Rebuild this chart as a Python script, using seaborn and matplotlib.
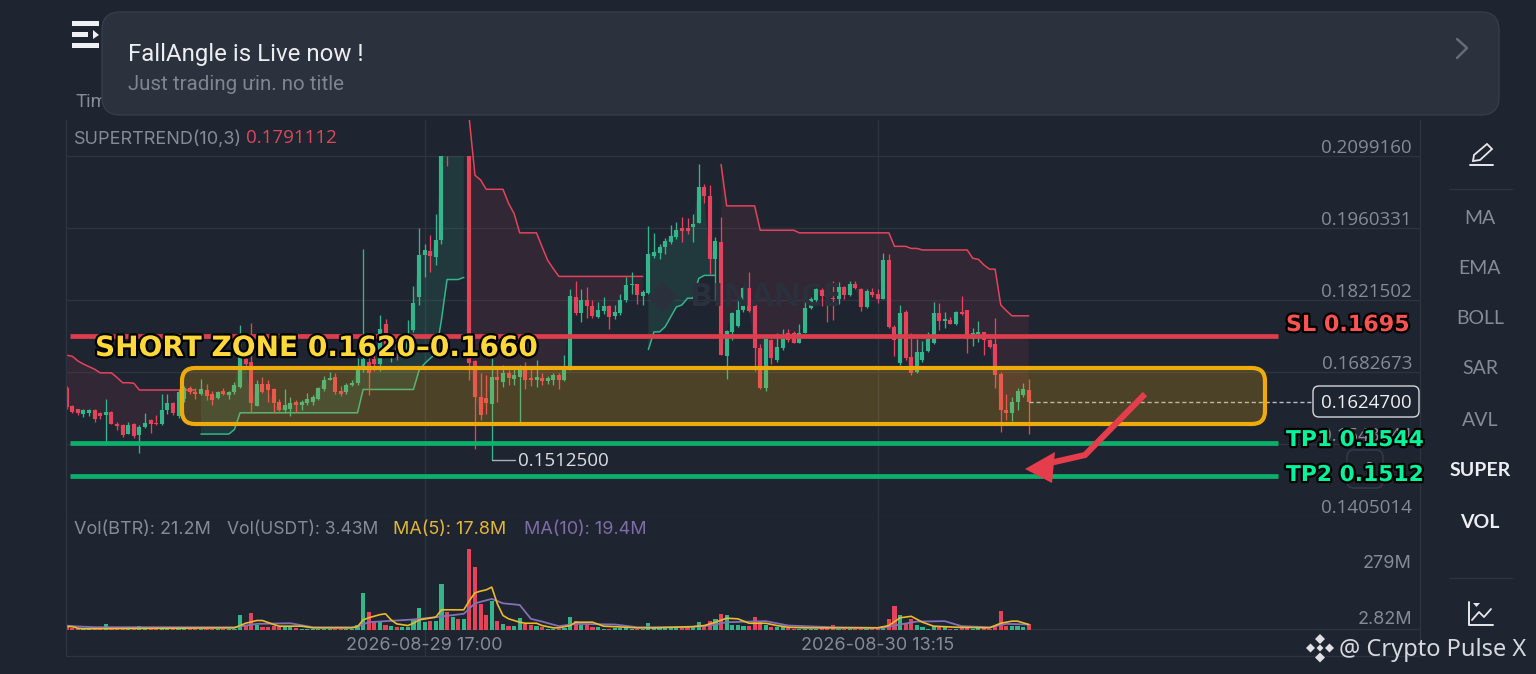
import numpy as np
import pandas as pd
import matplotlib
matplotlib.use("Agg")
import matplotlib.pyplot as plt
import matplotlib.patheffects as pe
from matplotlib.patches import FancyBboxPatch, Polygon, Rectangle
import seaborn as sns

_ = np.nan

# 15 minute candles, prices in units of 0.0001
opens = [1651,1617,1612,1601,1604,1609,1603,1599,1606,1583,1580,1564,1582,1561,1576,1591,1584,1582,1610,1622,
         1598,1630,1651,1644,1640,1648,1640,1633,1646,1638,1644,1654,1708,1702,1618,1660,1660,1649,1625,1609,
         1612,1625,1620,1622,1625,1631,1649,1668,1673,1646,1644,1657,1661,1686,1702,1708,1699,1775,1709,1745,
         1716,1725,1764,1828,1908,1916,1905,1937,2110,2140,2170,2140,2190,1704,1635,1632,1621,1674,1664,1680,
         1670,1674,1686,1671,1668,1672,1665,1667,1676,1668,1689,1828,1797,1821,1810,1789,1801,1810,1790,1797,
         1821,1850,1852,1829,1835,1906,1913,1924,1934,1943,1960,1961,1963,1970,2040,2022,1900,1934,1713,1760,
         1771,1802,1844,1811,1728,1651,1745,1705,1728,1758,1757,1739,1757,1807,1821,1840,1831,1826,1824,1847,
         1831,1853,1842,1808,1837,1834,1824,1898,1770,1700,1799,1711,1683,1705,1723,1739,1797,1781,1783,1776,
         1799,1802,1747,1756,1760,1745,1736,1678,1610,1604,1625,1638,1648]
closes = [1616,1606,1603,1609,1609,1593,1598,1606,1583,1578,1561,1580,1559,1576,1585,1583,1582,1610,1622,1603,
          1645,1651,1644,1640,1649,1636,1628,1644,1641,1644,1657,1712,1698,1622,1660,1644,1648,1622,1610,1619,
          1623,1620,1625,1630,1634,1651,1668,1672,1644,1641,1657,1662,1690,1708,1680,1698,1766,1730,1718,1725,
          1724,1748,1815,1908,1917,1906,1938,2110,2100,2180,2150,2200,1700,1635,1600,1622,1673,1667,1681,1672,
          1677,1686,1667,1668,1673,1665,1672,1676,1668,1689,1829,1796,1821,1810,1790,1802,1810,1789,1799,1821,
          1850,1853,1831,1837,1911,1914,1924,1935,1944,1956,1955,1955,1969,2040,2022,1900,1936,1715,1762,1797,
          1802,1844,1801,1728,1651,1747,1709,1731,1747,1744,1739,1757,1807,1824,1842,1829,1828,1824,1847,1831,
          1853,1844,1808,1839,1831,1824,1898,1769,1745,1797,1709,1681,1722,1722,1747,1797,1781,1784,1776,1799,
          1794,1747,1757,1760,1745,1731,1676,1610,1603,1625,1647,1649,1624.7]
highs = [1655,1619,1612,1611,1611,1611,1606,1630,1608,1586,1583,1586,1585,1580,1603,1593,1599,1640,1640,1625,
         1650,1655,1655,1651,1670,1660,1646,1646,1651,1646,1664,1773,1720,1777,1667,1673,1668,1651,1631,1649,
         1635,1628,1628,1642,1638,1654,1675,1683,1680,1655,1662,1667,1709,1919,1718,1725,1792,1784,1725,1750,
         1735,1782,1848,1961,1929,1946,1988,2115,2120,2200,2180,2210,2210,1705,1680,1676,1709,1693,1696,1686,
         1689,1696,1702,1689,1705,1680,1675,1681,1680,1716,1842,1859,1842,1847,1821,1818,1828,1812,1812,1834,
         1866,1875,1853,1840,1964,1951,1930,1941,1966,1972,1982,1979,1987,2083,2046,2043,1943,1982,1763,1799,
         1828,1847,1876,1816,1736,1747,1747,1757,1765,1765,1762,1775,1844,1828,1844,1844,1850,1859,1857,1848,
         1858,1858,1844,1842,1844,1842,1912,1911,1773,1811,1803,1757,1747,1742,1760,1818,1816,1799,1789,1801,
         1829,1803,1767,1781,1760,1747,1786,1683,1641,1634,1651,1662,1670]
lows = [1612,1603,1600,1595,1598,1587,1593,1542,1582,1570,1558,1563,1556,1526,1574,1565,1580,1580,1601,1600,
        1594,1625,1640,1631,1638,1628,1620,1630,1638,1630,1640,1651,1692,1603,1617,1642,1625,1606,1608,1604,
        1597,1606,1609,1619,1620,1628,1646,1667,1641,1636,1641,1655,1657,1683,1638,1685,1685,1718,1702,1705,
        1712,1720,1760,1811,1866,1876,1889,1930,2080,2120,2140,2135,1668,1535,1590,1601,1512.5,1625,1653,1657,
        1657,1587,1649,1655,1653,1657,1659,1657,1649,1666,1686,1792,1780,1786,1786,1786,1795,1765,1785,1792,
        1818,1834,1813,1811,1834,1903,1901,1911,1929,1940,1934,1948,1934,1970,2008,1871,1821,1715,1670,1744,
        1769,1799,1799,1685,1649,1646,1699,1702,1725,1741,1738,1739,1757,1805,1818,1810,1779,1783,1813,1824,
        1829,1842,1801,1807,1828,1816,1824,1767,1714,1696,1705,1677,1681,1702,1721,1736,1763,1768,1775,1773,
        1792,1720,1733,1741,1715,1728,1651,1567,1590,1588,1609,1635,1563]

# supertrend, one value per candle
st_down = [1715,1713,1704,1698,1693,1688,1681,1681,1681,1672,1662,1662,1661,1648,1648,1648,1648,1648,1648,1648,1648,1648,1648,1648,
           _,_,_,_,_,_,_,_,_,_,_,_,_,_,_,_,_,_,_,_,_,_,_,_,_,_,_,_,_,_,_,_,_,_,_,_,_,_,_,_,_,_,_,_,_,_,_,_,
           2168,2062,2053,2035,2035,2035,2035,2008,1988,1951,1951,1951,1951,1924,1898,1882,
           1867,1867,1867,1867,1867,1867,1867,1867,1867,1867,1867,1867,1867,1867,1867,1867,
           _,_,_,_,_,_,_,_,_,_,_,_,_,
           2083,2003,2003,2003,2003,2003,2003,1956,1956,1956,1956,1956,1956,1956,
           1951,1951,1951,1951,1951,1951,1951,1951,1951,1951,1951,1951,1951,1951,1951,1951,1951,
           1925,1925,1925,1921,1921,1918,1918,1918,1918,1918,1918,1918,1918,1918,
           1902,1900,1889,1881,1881,1812,1801,1791,1791,1791,1791]
st_up = [_,_,_,_,_,_,_,_,_,_,_,_,_,_,_,_,_,_,_,_,_,_,_,_,
         1563,1563,1563,1563,1563,1563,1572,1604,
         1604,1604,1604,1604,1604,1604,1604,1604,1604,1604,1604,1604,1604,1604,1604,1604,1604,1604,1604,1604,1604,
         1649,1649,1649,1649,1649,1649,1649,1649,1649,1649,
         1686,1699,1709,1718,1783,1861,1861,1861,1865,
         _,_,_,_,_,_,_,_,_,_,_,_,_,_,_,_,_,_,_,_,_,_,_,_,_,_,_,_,_,_,_,_,
         1726,1760,1760,1770,1789,1808,1812,1825,1825,1863,1869,1869,1869,
         _,_,_,_,_,_,_,_,_,_,_,_,_,_,_,_,_,_,_,_,_,_,_,_,_,_,_,_,_,_,_,_,_,_,_,_,_,_,_,_,_,_,_,_,_,_,_,_,_,_,_,_,_,_,_,_]

# volume in millions
volumes = [14,6,3,3,3,3,3,27,4,3,3,3,3,19,11,3,3,11,8,5,8,8,3,4,4,3,3,3,3,3,4,70,19,78,22,11,14,19,14,11,11,8,4,4,3,3,3,3,3,3,3,3,
           22,176,83,35,38,24,19,11,11,14,46,102,35,43,43,217,83,59,51,51,384,300,122,67,138,43,27,16,19,56,27,22,19,11,4,3,3,5,
           62,40,22,22,11,10,3,3,6,5,5,3,3,3,33,11,11,11,11,11,8,8,14,38,19,43,48,75,70,24,24,19,19,59,35,24,14,11,14,8,3,3,3,3,3,8,11,21,
           3,3,3,3,3,3,3,3,19,48,110,70,30,48,22,11,3,16,16,14,3,3,8,14,3,6,8,3,19,86,19,19,16,14,27]
ma5_idx = [0,1,2,3,30,32,34,35,37,38,42,44,51,52,53,54,56,57,58,59,61,62,63,66,67,71,72,73,74,75,76,77,78,79,81,82,84,85,87,88,90,91,94,96,100,102,105,112,114,116,118,120,122,125,127,129,132,145,147,149,151,153,155,159,165,167,169,170,172]
ma5_vals = [14,14,6,4,8,30,43,43,24,16,16,8,8,14,46,56,71,75,46,27,19,30,46,59,94,94,138,175,183,189,202,122,67,51,35,30,30,19,8,8,19,35,35,16,11,8,8,14,19,35,54,51,30,30,19,11,8,8,19,56,63,35,16,11,8,30,40,40,24]
ma10_idx = [0,1,5,30,34,40,44,51,52,54,62,66,71,73,76,78,81,83,85,88,91,98,102,111,115,118,125,129,137,146,149,152,157,160,165,168,172]
ma10_vals = [19,16,11,11,27,30,11,11,14,35,48,59,75,125,146,125,117,51,38,16,27,24,11,11,19,35,40,19,11,8,24,38,40,16,11,27,24]

price_ticks = [0.2099160, 0.1960331, 0.1821502, 0.1682673, 0.1543844, 0.1405014]
price_labels = ["0.2099160", "0.1960331", "0.1821502", "0.1682673", "0.1543844", "0.1405014"]
date_ticks = [64, 145]
date_labels = ["2026-08-29 17:00", "2026-08-30 13:15"]
last_price = 0.1624700
low_price = 0.1512500
side_items = ["MA", "EMA", "BOLL", "SAR", "AVL", "SUPER", "VOL"]

BG = "#1e2430"
GRID = "#2d3440"
UP = "#34b58a"
DOWN = "#e5435a"
GREY = "#848c98"
UI = ["Inter", "DejaVu Sans"]
NUM = ["Open Sans", "DejaVu Sans"]

sns.set_theme(style="dark")
plt.rcParams["font.family"] = UI

W, H = 1536, 674
fig = plt.figure(figsize=(W / 100, H / 100), dpi=100, facecolor=BG)


def px_axes(left, top, right, bottom):
    a = fig.add_axes([left / W, 1 - bottom / H, (right - left) / W, (bottom - top) / H])
    a.set_facecolor("none")
    for s in a.spines.values():
        s.set_visible(False)
    return a


ax = px_axes(66, 120, 1420, 516)
ax_vol = px_axes(66, 516, 1420, 656)

idx = np.arange(len(opens))
o = np.array(opens) / 1e4
c = np.array(closes) / 1e4
hi = np.array(highs) / 1e4
lo = np.array(lows) / 1e4
down_line = np.array(st_down) / 1e4
up_line = np.array(st_up) / 1e4
top = price_ticks[0]  # the candles stop at the top gridline

xlim = (-0.125, 241.96)
ax.set_xlim(xlim)
ax.set_ylim(0.1405014, 0.21686)
ax_vol.set_xlim(xlim)
ax_vol.set_ylim(-126, 540.7)

for a in (ax, ax_vol):
    a.set_xticks(date_ticks)
    a.set_xticklabels([])
    a.tick_params(length=0, labelleft=False, labelbottom=False)
    a.grid(True, color=GRID, lw=1)
ax.set_yticks(price_ticks)
ax_vol.set_yticks([2.82])

# supertrend shading between the line and the close
ax.fill_between(idx, np.minimum(down_line, top), np.minimum(c, top), where=~np.isnan(down_line),
                color=DOWN, alpha=0.10, lw=0)
ax.fill_between(idx, up_line, np.minimum(c, top), where=~np.isnan(up_line), color=UP, alpha=0.14, lw=0)


def draw_runs(axis, values, color):
    # lineplot drops NaN and would join the runs, so each run goes on its own
    breaks = np.where(np.diff(np.isnan(values).astype(int)) != 0)[0] + 1
    for run in np.split(idx, breaks):
        if not np.isnan(values[run[0]]):
            sns.lineplot(x=run, y=values[run], color=color, lw=1.1, estimator=None, sort=False,
                         errorbar=None, ax=axis, legend=False)


draw_runs(ax, down_line, DOWN)
draw_runs(ax, up_line, UP)

rising = c >= o
for mask, col in ((rising, UP), (~rising, DOWN)):
    ax.vlines(idx[mask], np.minimum(lo[mask], top), np.minimum(hi[mask], top), color=col, lw=0.95, zorder=3)
    ax.vlines(idx[mask], np.minimum(o[mask], top), np.minimum(c[mask], top), color=col, lw=3.0, zorder=3)

# last price dashes and lowest price leader
ax.plot([idx[-1], 222.5], [last_price, last_price], color="#b9bcc2", lw=1, ls=(0, (3, 2)), zorder=3)
ax.plot([76, 80.2], [low_price, low_price], color="#aab0b8", lw=1, zorder=3)
ax.annotate("0.1512500", xy=(80.7, low_price), va="center", ha="left", color="#dcdee2", fontsize=13.5, zorder=4,
            xytext=(0, -0.6), textcoords="offset points", family=NUM)

for y, lab in zip(price_ticks, price_labels):
    ax.annotate(lab, xy=(1, y), xycoords=("axes fraction", "data"), xytext=(-5.8, -1.0),
                textcoords="offset points", ha="right", va="bottom", color=GREY, fontsize=13.5, family=NUM)

# volume
vol_df = pd.DataFrame({"idx": idx, "vol": volumes, "side": np.where(rising, "up", "down")})
sns.barplot(data=vol_df, x="idx", y="vol", hue="side", palette={"up": UP, "down": DOWN}, dodge=False,
            native_scale=True, width=0.74, saturation=1, errorbar=None, legend=False, ax=ax_vol,
            linewidth=0, edgecolor="none")
sns.lineplot(x=ma10_idx, y=ma10_vals, color="#8570b5", lw=1.3, estimator=None, errorbar=None, ax=ax_vol)
sns.lineplot(x=ma5_idx, y=ma5_vals, color="#eabb2c", lw=1.2, estimator=None, errorbar=None, ax=ax_vol)
ax_vol.set_xlim(xlim)
ax_vol.set_ylim(-126, 540.7)
ax_vol.set_xlabel("")
ax_vol.set_ylabel("")

# everything below is the screenshot furniture, placed in picture pixels
ui = fig.add_axes([0, 0, 1, 1], zorder=5)
ui.set_xlim(0, W)
ui.set_ylim(H, 0)
ui.axis("off")
ui.patch.set_alpha(0)


def label(x, y, s, color=GREY, size=13, ha="left", weight="normal", family=None, **kw):
    # va center sits about 2 px high for these fonts
    return ui.text(x, y + 2, s, color=color, fontsize=size, ha=ha, va="center", weight=weight,
                   family=family or UI, **kw)


ui.plot([66, 66], [120, 656], color=GRID, lw=1)
ui.plot([1420, 1420], [120, 656], color=GRID, lw=1)
ui.plot([66, 1420], [656, 656], color=GRID, lw=1)

# BINANCE watermark
label(690, 295, "BINANCE", color="#2a303c", size=24, weight="bold", family=NUM, zorder=0)
ui.add_patch(Polygon([(662, 282), (677, 297), (662, 312), (647, 297)], closed=True, fc="#2a303c", ec="none", zorder=0))

label(74, 137, "SUPERTREND(10,3)")
label(246, 136, "0.1791112", color="#d94a5c", size=13.5, family=NUM)
label(74, 527, "Vol(BTR): 21.2M")
label(227, 527, "Vol(USDT): 3.43M", size=12.6)
label(393, 527, "MA(5): 17.8M", color="#e3b53a")
label(524, 527, "MA(10): 19.4M", color="#7f6ca8")
label(1412, 561, "279M", ha="right")
label(1412, 617, "2.82M", ha="right")
label(424.5, 644, date_labels[0], ha="center")
label(877.5, 644, date_labels[1], ha="center")

# hand drawn levels and zone
for y, col in ((336, "#dd3d4c"), (443, "#0bb06d"), (476, "#0bb06d")):
    ui.plot([70, 1278], [y, y], color=col, lw=3.4, solid_capstyle="butt", zorder=6)

ui.add_patch(FancyBboxPatch((182, 368), 1083, 56, boxstyle="round,pad=0,rounding_size=13",
                            fc=(0.93, 0.68, 0.06, 0.22), ec="#eeab0c", lw=3, zorder=7))

stroke = [pe.withStroke(linewidth=3.2, foreground="black")]
bold = ["DejaVu Sans"]
label(95, 346, "SHORT ZONE 0.1620\u20130.1660", color="#ffd83b", size=20.15, weight="bold", family=bold,
      path_effects=stroke, zorder=8)
label(1286, 323, "SL 0.1695", color="#ff5252", size=16, weight="bold", family=bold, path_effects=stroke, zorder=8)

# last price box, small button
ui.add_patch(FancyBboxPatch((1313, 386), 106, 31, boxstyle="round,pad=0,rounding_size=6", fc=BG, ec="#d5d7da", lw=1, zorder=6))
label(1366, 401, "0.1624700", color="#eef0f2", ha="center", zorder=7, size=13.5, family=NUM)
ui.add_patch(FancyBboxPatch((1347, 450), 36, 38, boxstyle="round,pad=0,rounding_size=7", fc="none", ec="#323945", lw=1.2, zorder=6))
ui.plot([1366, 1368, 1371, 1374], [470, 463, 463, 476], color="#e6e8ea", lw=1, zorder=6)

label(1286, 438, "TP1 0.1544", color="#00f59c", size=15.7, weight="bold", family=bold, path_effects=stroke, zorder=8)
label(1286, 473, "TP2 0.1512", color="#00f59c", size=15.7, weight="bold", family=bold, path_effects=stroke, zorder=8)

# red arrow
ui.plot([1145, 1085, 1050], [394, 455, 463], color="#e63d4c", lw=4.4, solid_joinstyle="miter", solid_capstyle="butt", zorder=8)
ui.add_patch(Polygon([(1025, 469), (1055, 452), (1052, 483)], closed=True, fc="#e63d4c", ec="none", zorder=8))

# side bar
side_y = [216, 267, 317, 367, 418, 469, 520]
for name, y in zip(side_items, side_y):
    on = name in ("SUPER", "VOL")
    label(1480, y, name, color="#eceef1" if on else GREY, size=14, ha="center", weight="bold" if on else "normal",
          family=["Lato", "DejaVu Sans"])
ui.plot([1449, 1512], [189, 189], color=GRID, lw=1)
ui.plot([1449, 1512], [578, 578], color=GRID, lw=1)
ui.plot([1470, 1493], [165, 165], color="#e6e8ea", lw=1.4)
ui.add_patch(Polygon([(1473, 161), (1474, 155), (1487, 144), (1492, 149), (1480, 160)], closed=True, fc="none", ec="#e6e8ea", lw=1.3))
ui.plot([1469, 1469, 1493], [602, 625, 625], color="#e6e8ea", lw=1.4)
ui.plot([1472, 1479, 1484, 1491], [620, 612, 617, 609], color="#e6e8ea", lw=1.3)
ui.add_patch(Polygon([(1473, 603), (1480, 603), (1476.5, 607)], closed=True, fc="#e6e8ea", ec="none"))

# top left menu, hidden tab, banner
for y0, x1 in ((21, 99), (32, 88), (43, 99)):
    ui.add_patch(Rectangle((72, y0), x1 - 72, 5, fc="#eef0f3", ec="none"))
ui.add_patch(Polygon([(93, 30), (99, 35), (93, 39)], closed=True, fc="#eef0f3", ec="none"))
label(76, 100, "Time", size=13.5, family=["Roboto", "DejaVu Sans"])
ui.add_patch(FancyBboxPatch((102, 12), 1397, 103, boxstyle="round,pad=0,rounding_size=18", fc="#2b313d", ec="#363c48", lw=1, zorder=9))
label(128, 53, "FallAngle is Live now !", color="#eceef1", size=17.3, family=["Roboto", "DejaVu Sans"], zorder=10)
label(128, 83, "Just trading \u01b0in. no title", color="#80858f", size=14.8, family=["Roboto", "DejaVu Sans"], zorder=10)
ui.plot([1457, 1467, 1457], [39, 48, 58], color="#666c77", lw=1.8, zorder=10)

# watermark
label(1339, 648, "@ Crypto Pulse X", color="#d6d9dd", size=17, family=["Noto Sans", "DejaVu Sans"], zorder=10)
for dx, dy, r in ((0, -9, 5), (-9.5, 0, 4.5), (9.5, 0, 4.5), (0, 9.5, 5), (0, 0, 3.5)):
    cx, cy = 1320 + dx, 648 + dy
    ui.add_patch(Polygon([(cx, cy - r), (cx + r, cy), (cx, cy + r), (cx - r, cy)], closed=True, fc="#dfe1e4", ec="none", zorder=10))

fig.savefig("out.png", dpi=100, facecolor=BG)
